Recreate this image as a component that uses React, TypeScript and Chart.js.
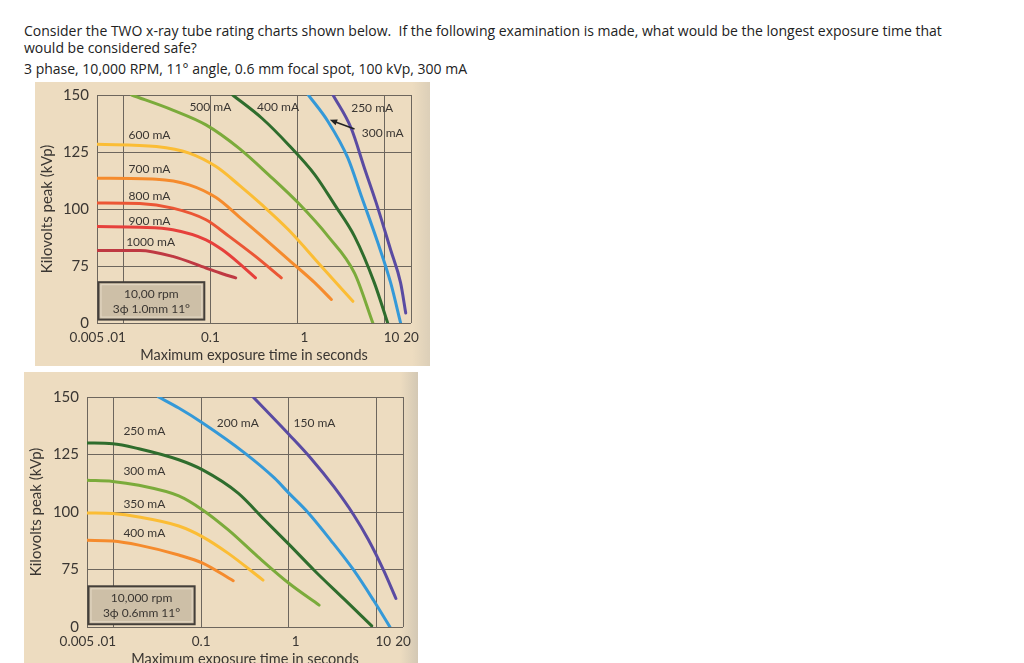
import { useEffect, useRef } from "react"
import type { CSSProperties } from "react"
import { Chart, registerables } from "chart.js"
import type { Plugin } from "chart.js"

Chart.register(...registerables)

type Pt = [number, number] // [exposure time (s), kVp]

// axis ticks - the bottom of the kVp axis is printed as "0" on the charts
const timeTicks = [0.005, 0.01, 0.1, 1, 10, 20]
const timeTickLabels = ["0.005", ".01", "0.1", "1", "10", "20"]
const timeTickNudge = [-3, -2, 0, 2, 2, 0] // en spaces, negative = trailing
const kvTicks = [50, 75, 100, 125, 150]
const kvTickLabels = ["0", "75", "100", "125", "150"]

// upper chart: 10,000 rpm, 3 phase, 1.0 mm, 11 deg
const top250: Pt[] = [[2.55, 150], [4.12, 135.4], [5.85, 117.9], [7.93, 103], [11.7, 82], [15.2, 67.6], [17.4, 54.4]]
const top300: Pt[] = [[1.33, 150], [2.24, 138.3], [3.78, 122.3], [5.46, 105], [8.28, 85.5], [11.7, 67.6], [15.2, 50]]
const top400: Pt[] = [[0.18, 150], [0.39, 139.8], [0.79, 128.1], [1.58, 115], [2.67, 101.8], [4.5, 88], [7.6, 67.6], [10.8, 50]]
const top500: Pt[] = [[0.0125, 150], [0.037, 143.4], [0.089, 136.9], [0.212, 126.7], [0.466, 115], [1.02, 102.6], [2.24, 88], [4.5, 71.9], [7.3, 50]]
const top600: Pt[] = [[0.005, 128.4], [0.024, 127.4], [0.057, 124.5], [0.116, 118.6], [0.212, 110.6], [0.391, 101.8], [0.786, 90.9], [1.88, 74.8], [4.31, 59.5]]
const top700: Pt[] = [[0.005, 113.5], [0.024, 113.1], [0.057, 110.6], [0.116, 105], [0.212, 96.7], [0.391, 88], [0.786, 77.8], [1.58, 67.6], [2.44, 60.3]]
const top800: Pt[] = [[0.005, 102.6], [0.0155, 102.4], [0.037, 100.4], [0.089, 95.3], [0.164, 88], [0.329, 79.2], [0.65, 69.8]]
const top900: Pt[] = [[0.005, 92.3], [0.0155, 92], [0.037, 90.9], [0.089, 86.5], [0.137, 82.1], [0.212, 76.3], [0.329, 69.8]]
const top1000: Pt[] = [[0.005, 81.8], [0.0155, 81.8], [0.037, 79.2], [0.089, 74.1], [0.137, 71.6], [0.195, 69.8]]

// lower chart: 10,000 rpm, 3 phase, 0.6 mm, 11 deg
const low150: Pt[] = [[0.391, 150], [1.01, 133.6], [1.78, 123.4], [3.26, 111], [5.49, 98.7], [8.1, 87.8], [12, 74.7], [16.6, 62.4]]
const low200: Pt[] = [[0.0327, 150], [0.0556, 145.2], [0.104, 138.7], [0.315, 125.6], [0.687, 114.7], [1.0, 108.2], [1.63, 100], [2.99, 87.8], [5.49, 74.7], [9.23, 61.6], [14.2, 50]]
const low250: Pt[] = [[0.005, 130], [0.0098, 129.7], [0.0195, 127.5], [0.0556, 122.7], [0.104, 118.3], [0.264, 108.2], [0.53, 96.5], [1.01, 85.8], [1.94, 74.7], [4.24, 62.2], [8.8, 50.5]]
const low300: Pt[] = [[0.005, 113.8], [0.0098, 113.3], [0.0195, 111.6], [0.0556, 107], [0.104, 100.9], [0.204, 92.2], [0.445, 80.5], [1.01, 68.9], [2.21, 59.5]]
const low350: Pt[] = [[0.005, 99.6], [0.0098, 99.3], [0.0195, 97.8], [0.0556, 93.9], [0.104, 89.2], [0.204, 82], [0.507, 70.4]]
const low400: Pt[] = [[0.005, 87.7], [0.0098, 87.4], [0.0195, 85.6], [0.0556, 81.3], [0.104, 77.8], [0.232, 70.1]]

const PURPLE = "#5a4ba2"
const BLUE = "#3499d8"
const DARK_GREEN = "#2f6d2d"
const GREEN = "#7bab3b"
const YELLOW = "#fbbd35"
const ORANGE = "#f58b2d"
const RED_ORANGE = "#eb5635"
const RED = "#e6403b"
const DARK_RED = "#bf3942"

const INK = "#3a3632"
const GRID = "#6d665d"
const PAPER = "#eddcc0"
const FONT = "Lato, 'Open Sans', sans-serif"

interface Curve { label: string; color: string; points: Pt[] }
interface Note { text: string; t: number; kv: number }
interface Box { t0: number; t1: number; kvTop: number; kvBottom: number; lines: string[] }

const topCurves: Curve[] = [
  { label: "250 mA", color: PURPLE, points: top250 },
  { label: "300 mA", color: BLUE, points: top300 },
  { label: "400 mA", color: DARK_GREEN, points: top400 },
  { label: "500 mA", color: GREEN, points: top500 },
  { label: "600 mA", color: YELLOW, points: top600 },
  { label: "700 mA", color: ORANGE, points: top700 },
  { label: "800 mA", color: RED_ORANGE, points: top800 },
  { label: "900 mA", color: RED, points: top900 },
  { label: "1000 mA", color: DARK_RED, points: top1000 },
]

const lowCurves: Curve[] = [
  { label: "150 mA", color: PURPLE, points: low150 },
  { label: "200 mA", color: BLUE, points: low200 },
  { label: "250 mA", color: DARK_GREEN, points: low250 },
  { label: "300 mA", color: GREEN, points: low300 },
  { label: "350 mA", color: YELLOW, points: low350 },
  { label: "400 mA", color: ORANGE, points: low400 },
]

// curve labels, anchored at their left edge in data units
const topNotes: Note[] = [
  { text: "500 mA", t: 0.0574, kv: 144.7 },
  { text: "400 mA", t: 0.343, kv: 144.7 },
  { text: "250 mA", t: 4.12, kv: 144.2 },
  { text: "300 mA", t: 5.45, kv: 133.2 },
  { text: "600 mA", t: 0.0115, kv: 132.2 },
  { text: "700 mA", t: 0.0115, kv: 117.5 },
  { text: "800 mA", t: 0.0115, kv: 105.8 },
  { text: "900 mA", t: 0.0115, kv: 94.5 },
  { text: "1000 mA", t: 0.0108, kv: 85.3 },
]

const lowNotes: Note[] = [
  { text: "250 mA", t: 0.013, kv: 135.1 },
  { text: "200 mA", t: 0.151, kv: 138.7 },
  { text: "150 mA", t: 1.13, kv: 138.7 },
  { text: "300 mA", t: 0.013, kv: 117.7 },
  { text: "350 mA", t: 0.013, kv: 103.6 },
  { text: "400 mA", t: 0.013, kv: 90.6 },
]

const topBox: Box = { t0: 0.0052, t1: 0.0851, kvTop: 67.9, kvBottom: 51.5, lines: ["10,00 rpm", "3\u03d5 1.0mm 11\u00b0"] }
const lowBox: Box = { t0: 0.0052, t1: 0.0843, kvTop: 67.7, kvBottom: 51.2, lines: ["10,000 rpm", "3\u03d5 0.6mm 11\u00b0"] }

// arrow pointing from the "300 mA" label to the blue curve
const topArrow: { from: Pt; to: Pt } = { from: [4.5, 135.1], to: [2.34, 139.1] }

function timeLabel(i: number) {
  const n = timeTickNudge[i]
  const pad = "\u2002".repeat(Math.abs(n))
  return n < 0 ? timeTickLabels[i] + pad : pad + timeTickLabels[i]
}

interface RatingChartProps {
  curves: Curve[]
  notes: Note[]
  box: Box
  arrow?: { from: Pt; to: Pt }
  yWidth: number
  xHeight: number
  padTop: number
  padRight: number
  shade: string
  style: CSSProperties
}

function RatingChart({ curves, notes, box, arrow, yWidth, xHeight, padTop, padRight, shade, style }: RatingChartProps) {
  const chartRef = useRef<HTMLCanvasElement>(null)
  const chartInstance = useRef<Chart | null>(null)

  useEffect(() => {
    if (!chartRef.current) return

    if (chartInstance.current) {
      chartInstance.current.destroy()
    }

    const ctx = chartRef.current.getContext("2d")
    if (!ctx) return

    // scanned-paper background with a slightly shaded right edge
    const paper: Plugin<"line"> = {
      id: "paper",
      beforeDraw(chart) {
        const c = chart.ctx
        const w = chart.width
        const g = c.createLinearGradient(w - 18, 0, w, 0)
        g.addColorStop(0, PAPER)
        g.addColorStop(1, shade)
        c.save()
        c.fillStyle = g
        c.fillRect(0, 0, w, chart.height)
        c.restore()
      },
    }

    const notesPlugin: Plugin<"line"> = {
      id: "notes",
      afterDatasetsDraw(chart) {
        const c = chart.ctx
        const x = chart.scales.x
        const y = chart.scales.y
        c.save()
        c.fillStyle = INK
        c.font = `12px ${FONT}`
        c.textBaseline = "middle"
        c.textAlign = "left"
        notes.forEach((n) => c.fillText(n.text, x.getPixelForValue(n.t), y.getPixelForValue(n.kv)))

        if (arrow) {
          const x0 = x.getPixelForValue(arrow.from[0])
          const y0 = y.getPixelForValue(arrow.from[1])
          const x1 = x.getPixelForValue(arrow.to[0])
          const y1 = y.getPixelForValue(arrow.to[1])
          const a = Math.atan2(y1 - y0, x1 - x0)
          c.strokeStyle = "#222"
          c.lineWidth = 1.5
          c.beginPath()
          c.moveTo(x0, y0)
          c.lineTo(x1 - 4 * Math.cos(a), y1 - 4 * Math.sin(a))
          c.stroke()
          c.fillStyle = "#222"
          c.beginPath()
          c.moveTo(x1, y1)
          c.lineTo(x1 - 8 * Math.cos(a - 0.4), y1 - 8 * Math.sin(a - 0.4))
          c.lineTo(x1 - 8 * Math.cos(a + 0.4), y1 - 8 * Math.sin(a + 0.4))
          c.closePath()
          c.fill()
        }

        // settings box
        const bx0 = x.getPixelForValue(box.t0)
        const bx1 = x.getPixelForValue(box.t1)
        const by0 = y.getPixelForValue(box.kvTop)
        const by1 = y.getPixelForValue(box.kvBottom)
        c.fillStyle = "#cdbfa7"
        c.fillRect(bx0, by0, bx1 - bx0, by1 - by0)
        c.strokeStyle = "#443f3a"
        c.lineWidth = 2
        c.strokeRect(bx0, by0, bx1 - bx0, by1 - by0)
        c.strokeStyle = "rgba(240, 230, 212, 0.7)"
        c.lineWidth = 1
        c.strokeRect(bx0 + 2.5, by0 + 2.5, bx1 - bx0 - 5, by1 - by0 - 5)
        c.fillStyle = INK
        c.textAlign = "center"
        const cx = (bx0 + bx1) / 2
        const cy = (by0 + by1) / 2
        c.fillText(box.lines[0], cx, cy - 7)
        c.fillText(box.lines[1], cx, cy + 8)
        c.restore()
      },
    }

    chartInstance.current = new Chart(ctx, {
      type: "line",
      data: {
        datasets: curves.map((cv) => ({
          label: cv.label,
          data: cv.points.map(([t, kv]) => ({ x: t, y: kv })),
          borderColor: cv.color,
          borderWidth: 3,
          borderCapStyle: "round",
          pointRadius: 0,
          fill: false,
          cubicInterpolationMode: "monotone",
        })),
      },
      options: {
        animation: false,
        responsive: true,
        maintainAspectRatio: false,
        layout: { padding: { top: padTop, right: padRight, left: 0, bottom: 0 } },
        scales: {
          x: {
            type: "logarithmic",
            min: 0.005,
            max: 20,
            afterBuildTicks: (scale) => {
              scale.ticks = timeTicks.map((value) => ({ value }))
            },
            afterFit: (scale) => {
              scale.height = xHeight
            },
            grid: { color: GRID, lineWidth: 1, drawTicks: false },
            border: { display: false },
            ticks: {
              autoSkip: false,
              maxRotation: 0,
              padding: 7,
              color: INK,
              font: { family: FONT, size: 13.5 },
              callback: (_v, i) => timeLabel(i),
            },
            title: {
              display: true,
              text: "Maximum exposure time in seconds",
              color: INK,
              font: { family: FONT, size: 14.5 },
              padding: { top: 0, bottom: 2 },
            },
          },
          y: {
            min: 50,
            max: 150,
            afterBuildTicks: (scale) => {
              scale.ticks = kvTicks.map((value) => ({ value }))
            },
            afterFit: (scale) => {
              scale.width = yWidth
            },
            // invisible tick marks give the label gap without padding the top
            grid: { color: GRID, lineWidth: 1, drawTicks: true, tickLength: 8, tickColor: "rgba(0,0,0,0)" },
            border: { display: false },
            ticks: {
              padding: 0,
              color: INK,
              font: { family: FONT, size: 15 },
              callback: (_v, i) => kvTickLabels[i],
            },
            title: {
              display: true,
              text: "Kilovolts peak (kVp)",
              color: INK,
              font: { family: FONT, size: 15 },
              padding: { top: 3, bottom: 0 },
            },
          },
        },
        plugins: {
          legend: { display: false },
          tooltip: { enabled: false },
        },
      },
      plugins: [paper, notesPlugin],
    })

    return () => {
      if (chartInstance.current) {
        chartInstance.current.destroy()
        chartInstance.current = null
      }
    }
  }, [curves, notes, box, arrow, yWidth, xHeight, padTop, padRight, shade])

  return (
    <div style={{ position: "absolute", ...style }}>
      <canvas ref={chartRef} />
    </div>
  )
}

export default function App() {
  return (
    <div style={{ position: "absolute", left: 0, top: 0, width: 1024, height: 663, overflow: "hidden", background: "#fff" }}>
      <div
        style={{
          position: "absolute",
          left: 24,
          top: 22,
          fontFamily: "'Open Sans', sans-serif",
          fontSize: 14,
          lineHeight: "17px",
          color: "#222",
          whiteSpace: "pre",
        }}
      >
        {"Consider the TWO x-ray tube rating charts shown below.  If the following examination is made, what would be the longest exposure time that\nwould be considered safe?"}
      </div>
      <div
        style={{
          position: "absolute",
          left: 24,
          top: 60,
          fontFamily: "'Open Sans', sans-serif",
          fontSize: 14,
          lineHeight: "17px",
          color: "#222",
          whiteSpace: "pre",
        }}
      >
        {"3 phase, 10,000 RPM, 11\u00b0 angle, 0.6 mm focal spot, 100 kVp, 300 mA"}
      </div>
      <RatingChart
        curves={topCurves}
        notes={topNotes}
        box={topBox}
        arrow={topArrow}
        yWidth={62}
        xHeight={43}
        padTop={13}
        padRight={19}
        shade="#dccfb8"
        style={{ left: 35, top: 82, width: 395, height: 284 }}
      />
      <RatingChart
        curves={lowCurves}
        notes={lowNotes}
        box={lowBox}
        yWidth={63}
        xHeight={43}
        padTop={25}
        padRight={15}
        shade="#d3c8b4"
        style={{ left: 24, top: 372, width: 394, height: 298 }}
      />
    </div>
  )
}
